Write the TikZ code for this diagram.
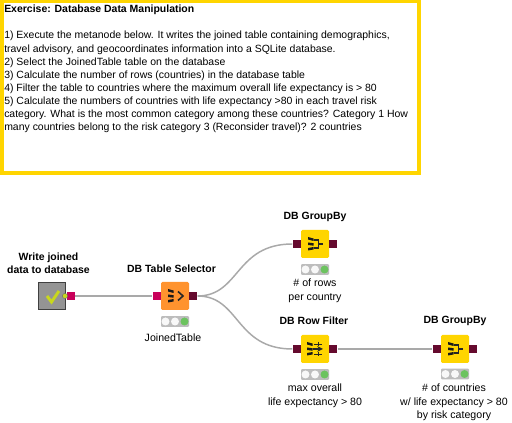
\documentclass[tikz,border=0pt]{standalone}
\usepackage{fontspec}
\setmainfont{Liberation Sans}
\definecolor{portdb}{HTML}{650A2E}
\definecolor{portdata}{HTML}{C8005A}
\definecolor{kyellow}{HTML}{FFD500}
\definecolor{korange}{HTML}{FF932E}
\definecolor{lightgrey}{HTML}{BDBDBD}
\definecolor{lightgreen}{HTML}{6CC35F}
\definecolor{wire}{HTML}{A9A9A9}
\definecolor{checkyellow}{HTML}{C8D71E}
\tikzset{
 x=0.75pt,y=-0.75pt,
 knode/.style={minimum width=21pt,minimum height=21pt,inner sep=0pt,rounded corners=1pt,line width=0pt},
 dbport/.style={fill=portdb,minimum width=6pt,minimum height=6.3pt,inner sep=0pt},
 dataport/.style={fill=portdata,minimum width=6pt,minimum height=6.3pt,inner sep=0pt},
 lamp/.style={fill=lightgrey,minimum width=21pt,minimum height=8pt,inner sep=0pt,rounded corners=0.8pt},
 wirepath/.style={draw=wire,line width=1.1pt},
 title/.style={font=\bfseries\fontsize{7.85}{9.7}\selectfont,align=center,inner sep=0pt},
 caption/.style={font=\fontsize{7.95}{10.2}\selectfont,align=center,inner sep=0pt},
 iconline/.style={draw=black!85,line width=1pt},
}
\newcommand{\lampdots}[2]{
 \fill[white!90!lightgrey] (#1-9.5,#2) circle[radius=4];
 \fill[white!90!lightgrey] (#1,#2) circle[radius=4];
 \fill[lightgreen] (#1+9.5,#2) circle[radius=4];
}
\newcommand{\threebars}[2]{
 \fill[black!90] (#1-6,#2-7) -- (#1-0.5,#2-5.5) -- (#1-0.5,#2-3) -- (#1-6,#2-4.5) -- cycle;
 \fill[black!90] (#1-6,#2-1.5) -- (#1-0.5,#2-0.8) -- (#1-0.5,#2+1.7) -- (#1-6,#2+1) -- cycle;
 \fill[black!90] (#1-6,#2+4) -- (#1-0.5,#2+3) -- (#1-0.5,#2+5.5) -- (#1-6,#2+6.5) -- cycle;
}
\newcommand{\groupicon}[2]{
 \threebars{#1}{#2}
 \draw[iconline] (#1,#2-4) -- (#1+4.5,#2-4) -- (#1+4.5,#2+4) -- (#1,#2+4);
 \draw[iconline] (#1+4.5,#2) -- (#1+9,#2);
}
\begin{document}
\begin{tikzpicture}
\useasboundingbox (0,0) rectangle (512,423);
\fill[white] (0,0) rectangle (512,423);
\node[draw=kyellow,line width=2.6pt,fill=white,minimum width=313pt,minimum height=128.6pt,inner sep=0pt] (note) at (210.5,87.5) {};
\node[anchor=north west,inner sep=0pt,font=\fontsize{7.85}{9.8}\selectfont,align=left] (notetext) at (4,5) {\textbf{Exercise: Database Data Manipulation}\\[9.8pt]
1) Execute the metanode below. It writes the joined table containing demographics,\\
travel advisory, and geocoordinates information into a SQLite database.\\
2) Select the JoinedTable table on the database\\
3) Calculate the number of rows (countries) in the database table\\
4) Filter the table to countries where the maximum overall life expectancy is > 80\\
5) Calculate the numbers of countries with life expectancy >80 in each travel risk\\
category. What is the most common category among these countries? Category 1 How\\
many countries belong to the risk category 3 (Reconsider travel)? 2 countries};

% nodes
\node[draw=black!75,fill=black!42,line width=0.9pt,minimum width=20.5pt,minimum height=20.5pt,inner sep=0pt] (meta) at (52,296) {};
\node[knode,fill=korange] (select) at (175,296) {};
\node[knode,fill=kyellow] (group1) at (315,244) {};
\node[knode,fill=kyellow] (filter) at (315,349) {};
\node[knode,fill=kyellow] (group2) at (455,349) {};

% ports
\node[dataport,anchor=west] (metaout) at (66.5,296) {};
\node[dataport,anchor=east] (selin) at (select.west) {};
\node[dbport,anchor=west] (selout) at (select.east) {};
\node[dbport,anchor=east] (g1in) at (group1.west) {};
\node[dbport,anchor=west] (g1out) at (group1.east) {};
\node[dbport,anchor=east] (fin) at (filter.west) {};
\node[dbport,anchor=west] (fout) at (filter.east) {};
\node[dbport,anchor=east] (g2in) at (group2.west) {};
\node[dbport,anchor=west] (g2out) at (group2.east) {};

% connectors
\draw[wirepath] (metaout.east) -- (selin.west);
\draw[wirepath] (selout.east) .. controls (240,296) and (235,244) .. (g1in.west);
\draw[wirepath] (selout.east) .. controls (240,296) and (235,349) .. (fin.west);
\draw[wirepath] (fout.east) -- (g2in.west);

% metanode details
\draw[draw=checkyellow,line width=2.2pt] (47,296) -- (51.5,302) -- (59,291);
\fill[checkyellow,draw=black!60,line width=0.3pt] (65,296) circle[radius=2.6];

% icons
\threebars{174}{296}
\draw[iconline,line width=1.2pt] (178,291.5) -- (183,296) -- (178,300.5);
\groupicon{314}{244}
\groupicon{454}{349}
\threebars{313}{349}
\draw[iconline,line width=0.7pt] (314,344) -- (322,344) (318,342) -- (318,346);
\draw[iconline,-stealth,line width=0.9pt] (313,349) -- (323,349);
\draw[iconline,line width=0.7pt] (314,354) -- (322,354) (318,352) -- (318,356);

% traffic lights
\node[lamp] (lsel) at (175,321.5) {};
\node[lamp] (lg1) at (315,269.5) {};
\node[lamp] (lf) at (315,374.5) {};
\node[lamp] (lg2) at (455,374) {};
\lampdots{175}{321.5}
\lampdots{315}{269.5}
\lampdots{315}{374.5}
\lampdots{455}{374}

% labels
\node[title] (tmeta) at (48.5,263) {Write joined\\data to database};
\node[title] (tsel) at (171.5,269) {DB Table Selector};
\node[title] (tg1) at (315,216.5) {DB GroupBy};
\node[title] (tf) at (314,321) {DB Row Filter};
\node[title] (tg2) at (455,321) {DB GroupBy};
\node[caption] (csel) at (173,337.5) {JoinedTable};
\node[caption] (cg1) at (315,291) {\# of rows\\per country};
\node[caption] (cf) at (315,396) {max overall\\life expectancy > 80};
\node[caption] (cg2) at (454,402.5) {\# of countries\\w/ life expectancy > 80\\by risk category};
\end{tikzpicture}
\end{document}
